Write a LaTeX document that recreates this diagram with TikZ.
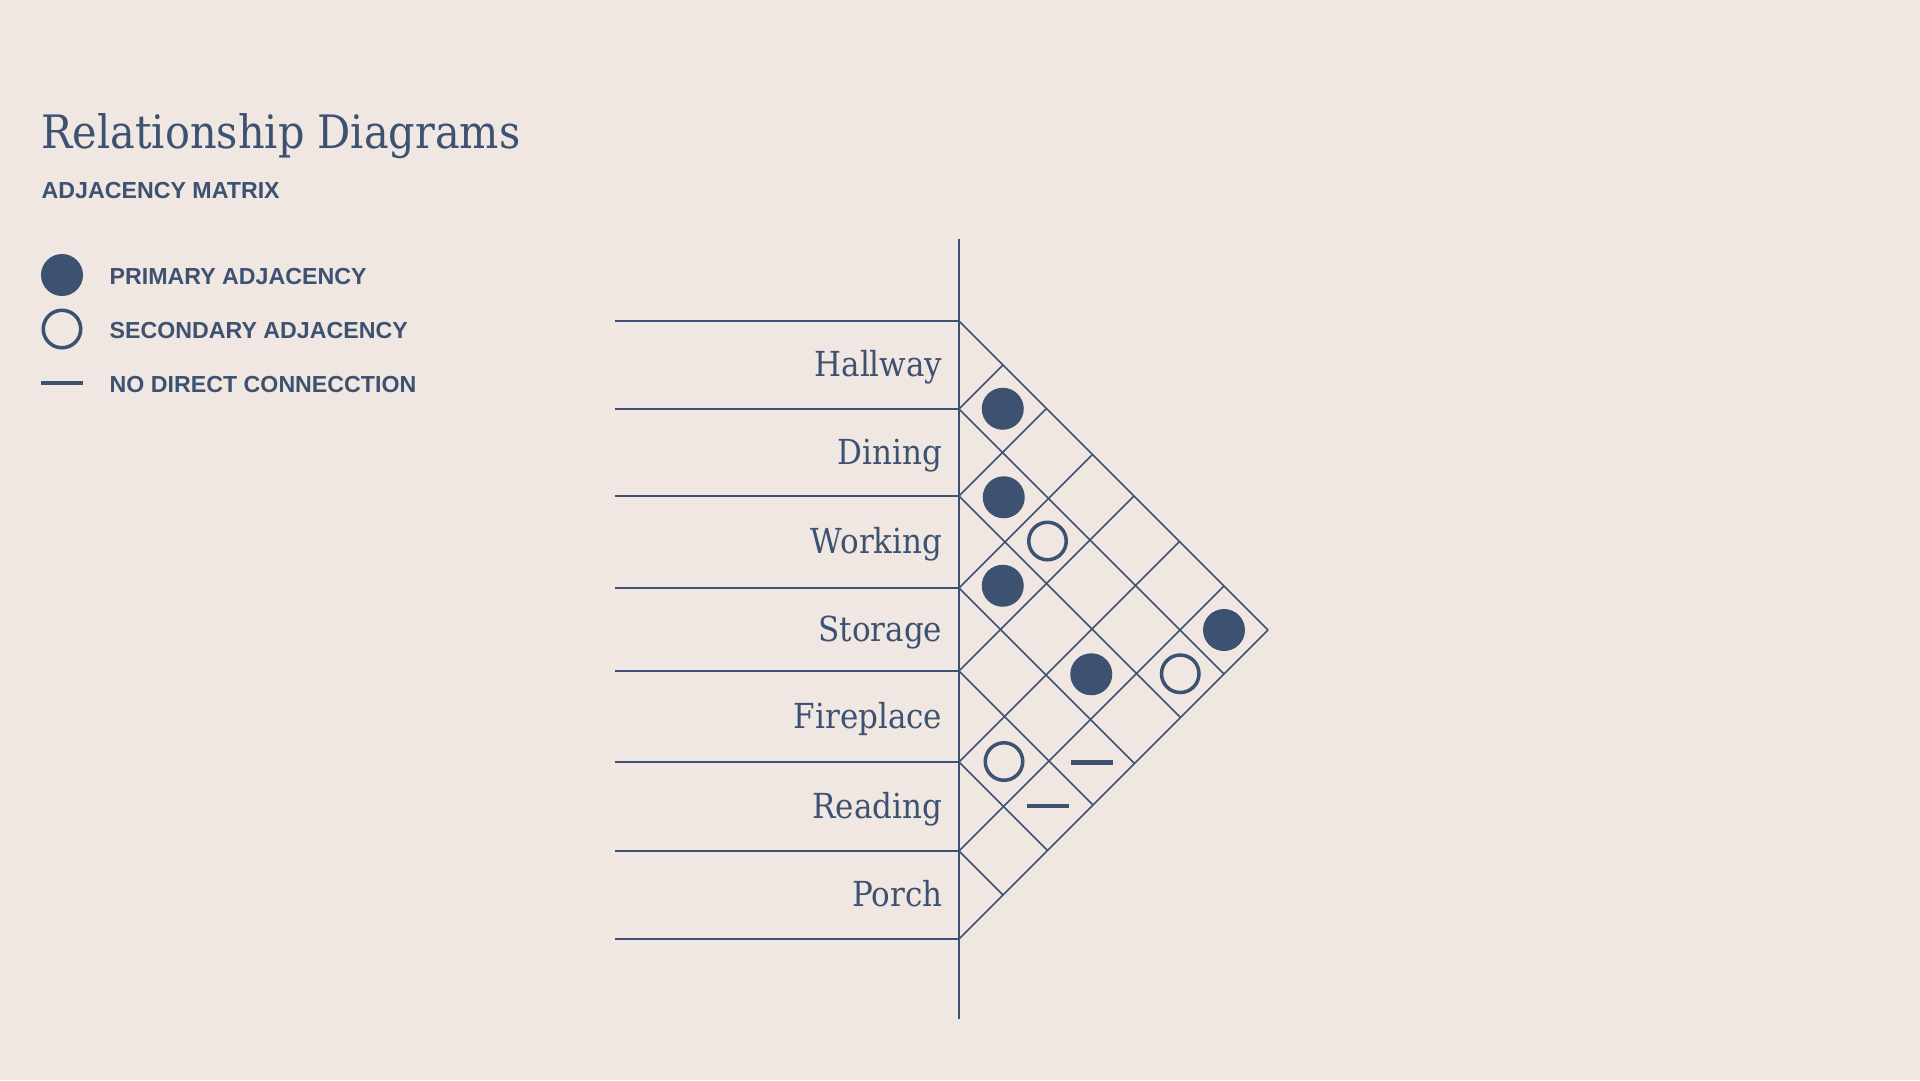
\documentclass[tikz,border=0pt]{standalone}
\usepackage{fontspec}
\setmainfont{DejaVu Serif Condensed}
\setsansfont{Liberation Sans}
\usetikzlibrary{calc}
\definecolor{ink}{RGB}{61,82,112}
\definecolor{paper}{RGB}{240,231,226}

\begin{document}
\begin{tikzpicture}[x=0.1mm,y=-0.1mm,
	rule/.style={draw=ink,line width=0.55pt},
	lattice/.style={draw=ink,line width=0.42pt},
	primary/.style={circle,fill=ink,inner sep=0pt,minimum size=4.2mm},
	secondary/.style={circle,draw=ink,line width=1pt,inner sep=0pt,minimum size=3.75mm},
	nolink/.style={rectangle,fill=ink,inner sep=0pt,minimum width=4.2mm,minimum height=0.45mm},
	caption/.style={anchor=base west,inner sep=0pt,text=ink,font=\sffamily\bfseries\fontsize{6.6}{8}\selectfont},
	room/.style={anchor=base east,inner sep=0pt,text=ink,font=\fontsize{9.8}{11}\selectfont}]
					%BACKGROUND
					\fill[paper] (0,0) rectangle (1920,1080);
					\useasboundingbox (0,0) rectangle (1920,1080);
					
					%TITLE
					\node[anchor=base west,inner sep=0pt,text=ink,font=\fontsize{13.1}{15}\selectfont] (title) at (41,148) {Relationship Diagrams};
					\node[caption] (subtitle) at (41,198) {ADJACENCY MATRIX};
					%LEGEND
					\node[primary] (kp) at (62,275) {};
					\node[caption] (tp) at (109,284) {PRIMARY ADJACENCY};
					\node[secondary] (ks) at (62,329) {};
					\node[caption] (ts) at (109,338) {SECONDARY ADJACENCY};
					\node[nolink] (kn) at (62,383) {};
					\node[caption] (tn) at (109,392) {NO DIRECT CONNECCTION};
					
					%AXIS
					\coordinate (top) at (959,239);
					\coordinate (bottom) at (959,1019);
					\draw[rule] (top) -- (bottom);
					%ROWS AND LATTICE
					\foreach \y [count=\k from 0] in {321,409,496,588,671,762,851,939}{
						\coordinate (b\k) at (959,\y);
						\draw[rule] (615,\y) -- (b\k);
						\draw[lattice] (b\k) -- ++({(939-\y)/2},{(939-\y)/2});
						\draw[lattice] (b\k) -- ++({(\y-321)/2},{-(\y-321)/2});
					}
					\def\rows{{365,452.5,542,629.5,716.5,806.5,895}}
					\foreach \name [count=\k from 0] in {Hallway,Dining,Working,Storage,Fireplace,Reading,Porch}{
						\pgfmathsetmacro{\cy}{\rows[\k]+11.5}
						\node[room] (r\k) at (943,\cy) {\name};
					}
					%ADJACENCIES
					\foreach \i/\j/\s in {0/1/primary,1/2/primary,1/3/secondary,2/3/primary,0/6/primary,2/5/primary,1/6/secondary,4/5/secondary,3/6/nolink,4/6/nolink}{
						\pgfmathsetmacro{\ci}{\rows[\i]}
						\pgfmathsetmacro{\cj}{\rows[\j]}
						\node[\s] (s\i\j) at ({959+(\cj-\ci)/2},{(\ci+\cj)/2}) {};
					}
				  \end{tikzpicture}
\end{document}
